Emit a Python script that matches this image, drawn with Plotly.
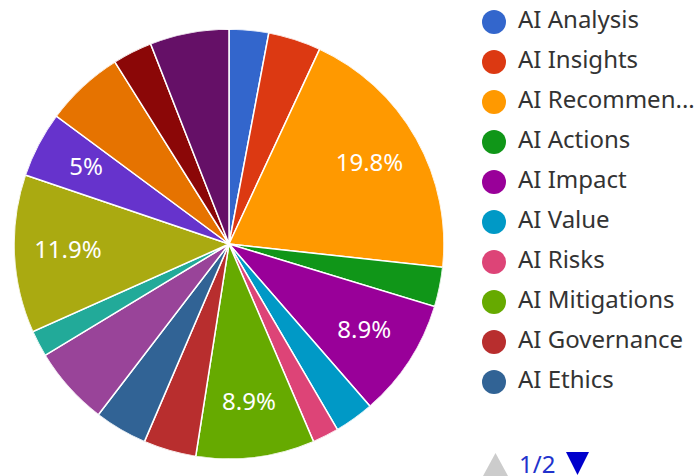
import plotly.graph_objects as go

labels = ["AI Analysis", "AI Insights", "AI Recommendations", "AI Actions", "AI Impact",
          "AI Value", "AI Risks", "AI Mitigations", "AI Governance", "AI Ethics",
          "AI Transparency", "AI Accountability", "AI Fairness", "AI Privacy",
          "AI Security", "AI Compliance", "AI Trust"]
values = [3, 4, 20, 3, 9, 3, 2, 9, 4, 4, 6, 2, 12, 5, 6, 3, 6]
colors = ["#3366cc", "#dc3912", "#ff9900", "#109618", "#990099", "#0099c6", "#dd4477",
          "#66aa00", "#b82e2e", "#316395", "#994499", "#22aa99", "#aaaa11", "#6633cc",
          "#e67300", "#8b0707", "#651067"]
shown_labels = ["AI Recommendations", "AI Impact", "AI Mitigations", "AI Fairness", "AI Privacy"]
legend_page1 = ["AI Analysis", "AI Insights", "AI Recommen...", "AI Actions", "AI Impact",
                "AI Value", "AI Risks", "AI Mitigations", "AI Governance", "AI Ethics"]
page_text = "1/2"

W, H = 699, 476
FONT = "Noto Sans, Open Sans, sans-serif"

total = sum(values)
def fmt(v):
    p = round(v / total * 100, 1)
    s = ("%.1f" % p).rstrip("0").rstrip(".")
    return s + "%"

# slice angles derived from data (clockwise from 12 o'clock)
mid_theta, widths, pcts = [], [], []
lab_theta, lab_text = [], []
cum = 0
for l, v in zip(labels, values):
    mid = (cum + v / 2) / total * 360
    mid_theta.append(mid)
    widths.append(v / total * 360)
    pcts.append(fmt(v))
    if l in shown_labels:
        lab_theta.append(mid)
        lab_text.append(fmt(v))
    cum += v

def px(x):
    return x / W
def py(y):
    return 1 - y / H

pie_dom = dict(x=[px(14), px(444)], y=[py(459), py(29)])

fig = go.Figure()
fig.add_trace(go.Barpolar(
    r=[1] * len(values), theta=mid_theta, width=widths,
    marker=dict(color=colors, line=dict(color="white", width=1.5)),
    customdata=list(zip(labels, pcts)),
    hovertemplate="%{customdata[0]}: %{customdata[1]}<extra></extra>",
    showlegend=False,
))

# inside labels
fig.add_trace(go.Scatterpolar(
    r=[0.75] * len(lab_theta), theta=lab_theta, mode="text", text=lab_text,
    textfont=dict(color="white", size=24, family=FONT),
    hoverinfo="skip", showlegend=False,
))

# custom legend (page 1 of 2)
n = len(legend_page1)
fig.add_trace(go.Scatter(
    x=[0] * n, y=list(range(n)), mode="markers",
    marker=dict(size=24, color=colors[:n], symbol="circle", line=dict(width=0)),
    cliponaxis=False, hoverinfo="skip", showlegend=False,
))
fig.add_trace(go.Scatter(
    x=[24] * n, y=list(range(n)), mode="text",
    text=legend_page1, textposition="middle right",
    textfont=dict(size=24, color="#333333", family=FONT),
    cliponaxis=False, hoverinfo="skip", showlegend=False,
))

shapes = [
    dict(type="path", xref="paper", yref="paper", line=dict(width=0), fillcolor="#cccccc",
         path=f"M {px(483)},{py(476)} L {px(495.5)},{py(453)} L {px(508)},{py(476)} Z"),
    dict(type="path", xref="paper", yref="paper", line=dict(width=0), fillcolor="#0000cc",
         path=f"M {px(566)},{py(452)} L {px(589)},{py(452)} L {px(577.5)},{py(475)} Z"),
]

fig.update_layout(
    width=W, height=H,
    margin=dict(l=0, r=0, t=0, b=0),
    paper_bgcolor="white", plot_bgcolor="white",
    xaxis=dict(domain=[px(482), 1], range=[-12, 205], visible=False, fixedrange=True),
    yaxis=dict(domain=[py(402), py(2)], range=[n - 0.5, -0.5], visible=False, fixedrange=True),
    polar=dict(domain=pie_dom, bgcolor="rgba(0,0,0,0)", hole=0,
               radialaxis=dict(range=[0, 1], visible=False),
               angularaxis=dict(rotation=90, direction="clockwise", visible=False)),
    font=dict(family=FONT),
    shapes=shapes,
    annotations=[
        dict(x=px(517), y=py(463), xref="paper", yref="paper", xanchor="left", yanchor="middle",
             text=page_text, showarrow=False, font=dict(size=24, color="#2233cc", family=FONT)),
    ],
)
fig.write_html("out.html", config={"displayModeBar": False},
               post_script="document.body.style.margin='0px';")
